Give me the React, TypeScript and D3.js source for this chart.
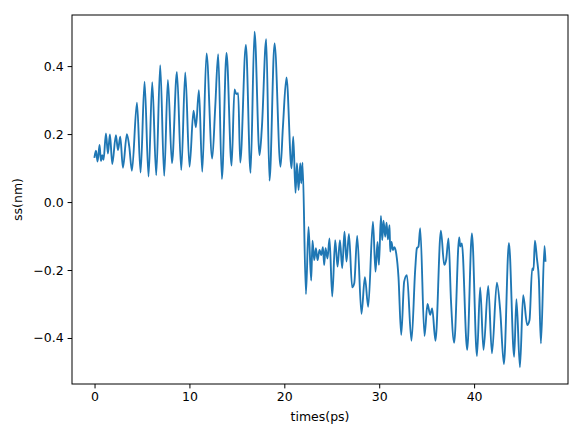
import { useRef, useEffect } from "react";
import * as d3 from "d3";

const times = [
  0, 0.15, 0.32, 0.53, 0.67, 0.81, 0.95, 1.2, 1.41, 1.62, 1.87, 2.25, 2.47, 2.71, 2.99, 3.41, 3.66, 3.94,
  4.47, 4.85, 5.27, 5.69, 6.08, 6.5, 6.92, 7.34, 7.73, 8.16, 8.68, 9.14, 9.56, 10.01, 10.43, 10.68, 11.0,
  11.35, 11.8, 12.4, 12.72, 13.03, 13.42, 13.91, 14.44, 14.75, 14.93, 15.14, 15.35, 15.95, 16.44, 16.86,
  17.39, 17.64, 18.09, 18.44, 18.97, 19.6, 19.85, 20.23, 20.76, 20.94, 21.18, 21.33, 21.5, 21.68, 21.78,
  21.92, 22.28, 22.55, 22.83, 22.97, 23.15, 23.33, 23.5, 23.71, 23.89, 24.07, 24.2, 24.34, 24.55, 24.76,
  25.05, 25.36, 25.61, 25.86, 26.1, 26.34, 26.55, 26.81, 27.15, 27.37, 27.68, 28.13, 28.49, 28.84, 29.34,
  29.61, 29.82, 29.97, 30.18, 30.32, 30.45, 30.63, 30.77, 30.92, 31.09, 31.16, 31.3, 31.44, 31.61, 31.79,
  32.03, 32.32, 32.63, 32.92, 33.4, 33.79, 33.97, 34.14, 34.32, 34.77, 35.09, 35.37, 35.58, 35.93, 36.5,
  36.85, 37.06, 37.3, 37.56, 37.9, 38.43, 38.54, 38.71, 39.27, 39.77, 40.3, 40.64, 40.99, 41.49, 41.88,
  42.4, 42.75, 43.14, 43.67, 44.22, 44.46, 44.83, 45.17, 45.6, 45.84, 46.12, 46.26, 46.41, 46.62, 46.83,
  47.04, 47.42, 47.52,
];

const ss = [
  0.133, 0.151, 0.119, 0.168, 0.121, 0.138, 0.124, 0.202, 0.143, 0.199, 0.112, 0.197, 0.153, 0.192, 0.101,
  0.2, 0.163, 0.092, 0.292, 0.087, 0.354, 0.075, 0.353, 0.079, 0.403, 0.077, 0.359, 0.114, 0.383, 0.094,
  0.381, 0.104, 0.269, 0.22, 0.329, 0.089, 0.437, 0.128, 0.28, 0.435, 0.068, 0.439, 0.107, 0.331, 0.318,
  0.32, 0.116, 0.462, 0.086, 0.501, 0.138, 0.222, 0.479, 0.063, 0.467, 0.104, 0.22, 0.367, 0.099, 0.192,
  0.027, 0.114, 0.035, 0.114, 0.055, 0.116, -0.271, -0.073, -0.231, -0.114, -0.171, -0.136, -0.171, -0.141,
  -0.156, -0.133, -0.185, -0.136, -0.166, -0.107, -0.278, -0.112, -0.19, -0.112, -0.195, -0.087, -0.175,
  -0.094, -0.251, -0.239, -0.1, -0.329, -0.221, -0.308, -0.058, -0.205, -0.117, -0.185, -0.041, -0.112,
  -0.055, -0.102, -0.061, -0.11, -0.068, -0.146, -0.117, -0.141, -0.133, -0.151, -0.22, -0.391, -0.234,
  -0.215, -0.408, -0.2, -0.136, -0.131, -0.077, -0.394, -0.3, -0.332, -0.313, -0.408, -0.084, -0.185,
  -0.169, -0.107, -0.288, -0.414, -0.104, -0.131, -0.122, -0.435, -0.092, -0.453, -0.251, -0.435, -0.247,
  -0.445, -0.237, -0.318, -0.477, -0.12, -0.455, -0.286, -0.486, -0.274, -0.362, -0.347, -0.195, -0.2,
  -0.114, -0.166, -0.229, -0.416, -0.129, -0.173,
];

const xTicks = [0, 10, 20, 30, 40];
const yTicks = [-0.4, -0.2, 0.0, 0.2, 0.4];

const width = 576;
const height = 430;
const margin = { top: 15, right: 8, bottom: 46, left: 72 };

export default function App() {
  const svgRef = useRef<SVGSVGElement>(null);

  useEffect(() => {
    const svg = d3.select(svgRef.current);
    svg.selectAll("*").remove();

    const x0 = d3.min(times)!;
    const x1 = d3.max(times)!;
    const padX = (x1 - x0) * 0.05;
    const y0 = d3.min(ss)!;
    const y1 = d3.max(ss)!;
    const padY = (y1 - y0) * 0.05;

    const x = d3
      .scaleLinear()
      .domain([x0 - padX, x1 + padX])
      .range([margin.left, width - margin.right]);
    const y = d3
      .scaleLinear()
      .domain([y0 - padY, y1 + padY])
      .range([height - margin.bottom, margin.top]);

    const font = "DejaVu Sans, sans-serif";

    // x axis
    const xAxis = svg
      .append("g")
      .attr("transform", `translate(0,${height - margin.bottom})`)
      .call(d3.axisBottom(x).tickValues(xTicks).tickSize(4.4).tickPadding(4).tickFormat(d3.format("d")));
    xAxis.select(".domain").remove();
    xAxis.selectAll("text").attr("font-size", 12.5).attr("font-family", font).attr("fill", "#000");
    xAxis.selectAll("line").attr("stroke", "#000").attr("stroke-width", 1);

    // y axis
    const yAxis = svg
      .append("g")
      .attr("transform", `translate(${margin.left},0)`)
      .call(d3.axisLeft(y).tickValues(yTicks).tickSize(4.4).tickPadding(4).tickFormat(d3.format(".1f")));
    yAxis.select(".domain").remove();
    yAxis.selectAll("text").attr("font-size", 12.5).attr("font-family", font).attr("fill", "#000");
    yAxis.selectAll("line").attr("stroke", "#000").attr("stroke-width", 1);

    // trace
    const line = d3
      .line<number>()
      .x((_, i) => x(times[i]))
      .y((d) => y(d))
      .curve(d3.curveMonotoneX);

    svg
      .append("path")
      .datum(ss)
      .attr("d", line)
      .attr("fill", "none")
      .attr("stroke", "#1f77b4")
      .attr("stroke-width", 1.875)
      .attr("stroke-linejoin", "round")
      .attr("stroke-linecap", "square");

    // frame
    svg
      .append("rect")
      .attr("x", margin.left)
      .attr("y", margin.top)
      .attr("width", width - margin.left - margin.right)
      .attr("height", height - margin.top - margin.bottom)
      .attr("fill", "none")
      .attr("stroke", "#000")
      .attr("stroke-width", 1);

    // labels
    svg
      .append("text")
      .attr("x", (margin.left + width - margin.right) / 2)
      .attr("y", 421)
      .attr("text-anchor", "middle")
      .attr("font-size", 12.5)
      .attr("font-family", font)
      .text("times(ps)");

    svg
      .append("text")
      .attr("transform", `translate(22,${(margin.top + height - margin.bottom) / 2}) rotate(-90)`)
      .attr("text-anchor", "middle")
      .attr("font-size", 12.5)
      .attr("font-family", font)
      .text("ss(nm)");
  }, []);

  return (
    <div style={{ position: "fixed", left: 0, top: 0 }}>
      <svg ref={svgRef} width={width} height={height} style={{ background: "#fff", display: "block" }} />
    </div>
  );
}
